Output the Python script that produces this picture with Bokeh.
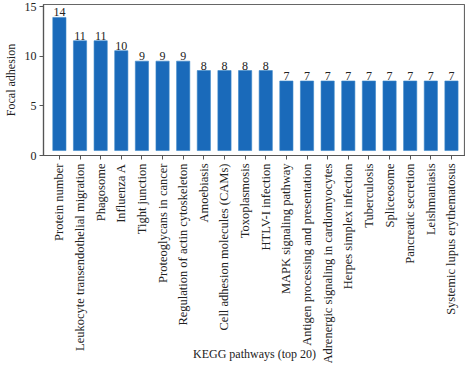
import math
from bokeh.plotting import figure
from bokeh.models import Range1d, FixedTicker, ColumnDataSource, LabelSet
from bokeh.embed import file_html
from bokeh.resources import INLINE

pathways = [
    "Protein number",
    "Leukocyte transendothelial migration",
    "Phagosome",
    "Influenza A",
    "Tight junction",
    "Proteoglycans in cancer",
    "Regulation of actin cytoskeleton",
    "Amoebiasis",
    "Cell adhesion molecules (CAMs)",
    "Toxoplasmosis",
    "HTLV-I infection",
    "MAPK signaling pathway",
    "Antigen processing and presentation",
    "Adrenergic signaling in cardiomyocytes",
    "Herpes simplex infection",
    "Tuberculosis",
    "Spliceosome",
    "Pancreatic secretion",
    "Leishmaniasis",
    "Systemic lupus erythematosus",
]
counts = [14, 11, 11, 10, 9, 9, 9, 8, 8, 8, 8, 7, 7, 7, 7, 7, 7, 7, 7, 7]
bar_tops = [13.9, 11.55, 11.55, 10.55, 9.5, 9.5, 9.5, 8.55, 8.55, 8.55, 8.55,
            7.5, 7.5, 7.5, 7.5, 7.5, 7.5, 7.5, 7.5, 7.5]
bar_bottom = 0.5
y_ticks = [0, 5, 10, 15]
x_title = "KEGG pathways (top 20)"
y_title = "Focal adhesion"

FONT = "Liberation Serif"
xs = list(range(len(pathways)))
src = ColumnDataSource(dict(x=xs, top=bar_tops, lab=[str(c) for c in counts]))

p = figure(width=458, height=362, output_backend="svg", toolbar_location=None,
           x_range=Range1d(-0.77, 19.68), y_range=Range1d(0, 15.2),
           frame_width=422, frame_height=151,
           min_border_left=36, min_border_right=0, min_border_top=4,
           min_border_bottom=207)
p.vbar(x="x", top="top", bottom=bar_bottom, width=0.64, source=src,
       fill_color="#1a6aba", line_color="#3a86c8", line_width=0.6)
p.add_layout(LabelSet(x="x", y="top", text="lab", source=src, text_align="center",
                      text_baseline="bottom", y_offset=1, text_font=FONT,
                      text_font_size="12px", text_color="#222222"))

p.xgrid.visible = False
p.ygrid.visible = False
p.outline_line_color = "#666666"
p.outline_line_width = 1.2

p.xaxis.ticker = FixedTicker(ticks=xs)
p.xaxis.major_label_overrides = {i: n for i, n in enumerate(pathways)}
p.xaxis.major_label_orientation = math.pi / 2
p.yaxis.ticker = FixedTicker(ticks=y_ticks)

for ax in (p.xaxis[0], p.yaxis[0]):
    ax.axis_line_color = "#555555"
    ax.axis_line_width = 1.2
    ax.major_tick_line_color = "#555555"
    ax.major_tick_in = 0
    ax.major_tick_out = 4
    ax.minor_tick_line_color = None
    ax.major_label_text_font = FONT
    ax.major_label_text_color = "#222222"
    ax.axis_label_text_font = FONT
    ax.axis_label_text_font_style = "normal"
    ax.axis_label_text_font_size = "12px"
    ax.axis_label_text_color = "#222222"

p.xaxis.major_label_text_font_size = "12.5px"
p.yaxis.major_label_text_font_size = "12px"
p.xaxis.axis_label = x_title
p.yaxis.axis_label = y_title
p.xaxis.major_label_standoff = 4
p.yaxis.major_label_standoff = 3
p.yaxis.axis_label_standoff = 4
p.xaxis.axis_label_standoff = -20

open("out.html", "w").write(file_html(p, INLINE))
